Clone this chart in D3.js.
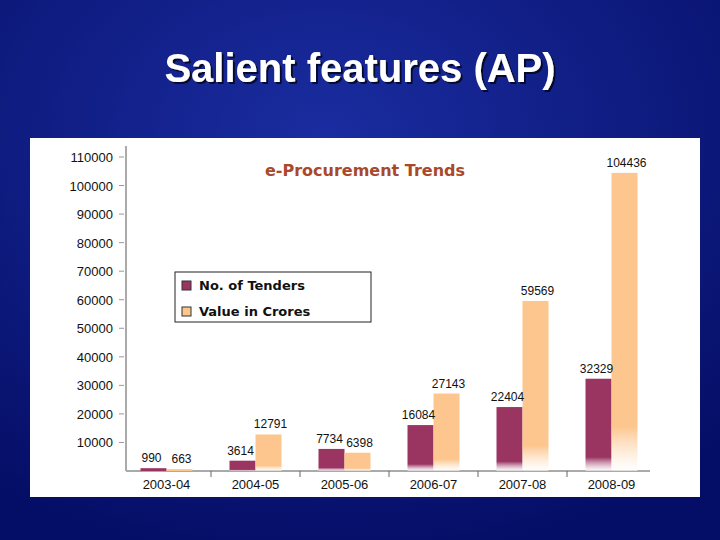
<!DOCTYPE html>
<html><head><meta charset="utf-8">
<script src="https://cdn.jsdelivr.net/npm/d3@7"></script>
<style>body{margin:0}svg{display:block}</style>
</head><body>
<svg id="c" width="720" height="540"></svg>
<script>
const years = ['2003-04', '2004-05', '2005-06', '2006-07', '2007-08', '2008-09']
const tenders = [990, 3614, 7734, 16084, 22404, 32329]
const crores = [663, 12791, 6398, 27143, 59569, 104436]
const yTicks = [10000, 20000, 30000, 40000, 50000, 60000, 70000, 80000, 90000, 100000, 110000]

const svg = d3.select('#c')
const defs = svg.append('defs')
const bg = defs.append('radialGradient').attr('id', 'bg').attr('cx', '45%').attr('cy', '25%').attr('r', '80%')
bg.append('stop').attr('offset', '0%').attr('stop-color', '#1a2ca0')
bg.append('stop').attr('offset', '100%').attr('stop-color', '#050e66')
svg.append('rect').attr('width', 720).attr('height', 540).attr('fill', 'url(#bg)')

const sh = defs.append('filter').attr('id', 'sh')
sh.append('feDropShadow').attr('dx', 2).attr('dy', 2).attr('stdDeviation', 0.5).attr('flood-color', '#000').attr('flood-opacity', 0.7)

function fade(id, c) {
  const g = defs.append('linearGradient').attr('id', id).attr('x1', 0).attr('y1', 0).attr('x2', 0).attr('y2', 1)
  g.append('stop').attr('offset', '0%').attr('stop-color', c)
  g.append('stop').attr('offset', '85%').attr('stop-color', c)
  g.append('stop').attr('offset', '100%').attr('stop-color', '#fff').attr('stop-opacity', 0.6)
}
fade('gt', '#9a3562')
fade('gv', '#fcc68e')

svg.append('text').attr('x', 360).attr('y', 82).attr('text-anchor', 'middle')
  .attr('font-family', 'Liberation Sans, Arial').attr('font-weight', 'bold').attr('font-size', 40)
  .attr('fill', '#fff').attr('filter', 'url(#sh)').text('Salient features (AP)')

svg.append('rect').attr('x', 30).attr('y', 138).attr('width', 670).attr('height', 359).attr('fill', '#fff')

const x = d3.scaleBand().domain(years).range([122, 656])
const y = d3.scaleLinear().domain([0, 110000]).range([471, 157])
const font = 'Liberation Sans, Arial'

const ax = svg.append('g').attr('font-family', font).attr('font-size', 13)
ax.append('line').attr('x1', 126).attr('x2', 126).attr('y1', 146).attr('y2', 471).attr('stroke', '#aaa').attr('stroke-width', 2)
ax.append('line').attr('x1', 126).attr('x2', 650).attr('y1', 471).attr('y2', 471).attr('stroke', '#aaa').attr('stroke-width', 2)
yTicks.forEach(t => {
  ax.append('line').attr('x1', 119).attr('x2', 124).attr('y1', y(t)).attr('y2', y(t)).attr('stroke', '#999')
  ax.append('text').attr('x', 113).attr('y', y(t) + 5).attr('text-anchor', 'end').attr('fill', '#111').text(t)
})
years.forEach((c, i) => {
  if (i > 0) ax.append('line').attr('x1', x(c)).attr('x2', x(c)).attr('y1', 471).attr('y2', 477).attr('stroke', '#666')
  ax.append('text').attr('x', x(c) + x.bandwidth() / 2).attr('y', 489).attr('text-anchor', 'middle').attr('fill', '#111').text(c)
})

const bw = 26
const bars = svg.append('g').attr('font-family', font).attr('font-size', 12).attr('fill', '#111')
years.forEach((c, i) => {
  const cx = x(c) + x.bandwidth() / 2
  bars.append('rect').attr('x', cx - bw).attr('y', y(tenders[i])).attr('width', bw).attr('height', 471 - y(tenders[i])).attr('fill', 'url(#gt)')
  bars.append('rect').attr('x', cx).attr('y', y(crores[i])).attr('width', bw).attr('height', 471 - y(crores[i])).attr('fill', 'url(#gv)')
  bars.append('text').attr('x', cx - bw / 2 - 2).attr('y', y(tenders[i]) - 6).attr('text-anchor', 'middle').text(tenders[i])
  bars.append('text').attr('x', cx + bw / 2 + 2).attr('y', y(crores[i]) - 6).attr('text-anchor', 'middle').text(crores[i])
})

svg.append('text').attr('x', 365).attr('y', 176).attr('text-anchor', 'middle')
  .attr('font-family', 'DejaVu Sans').attr('font-weight', 'bold').attr('font-size', 16).attr('fill', '#a9482a').text('e-Procurement Trends')

const lg = svg.append('g').attr('font-family', 'DejaVu Sans').attr('font-weight', 'bold').attr('font-size', 13)
lg.append('rect').attr('x', 175).attr('y', 272).attr('width', 196).attr('height', 50).attr('fill', '#fff').attr('stroke', '#222')
;[['No. of Tenders', '#9a3562'], ['Value in Crores', '#fcc68e']].forEach((d, i) => {
  lg.append('rect').attr('x', 182).attr('y', 281 + i * 26).attr('width', 9).attr('height', 9).attr('fill', d[1]).attr('stroke', '#333')
  lg.append('text').attr('x', 199).attr('y', 290 + i * 26).attr('fill', '#111').text(d[0])
})
</script>
</body></html>
